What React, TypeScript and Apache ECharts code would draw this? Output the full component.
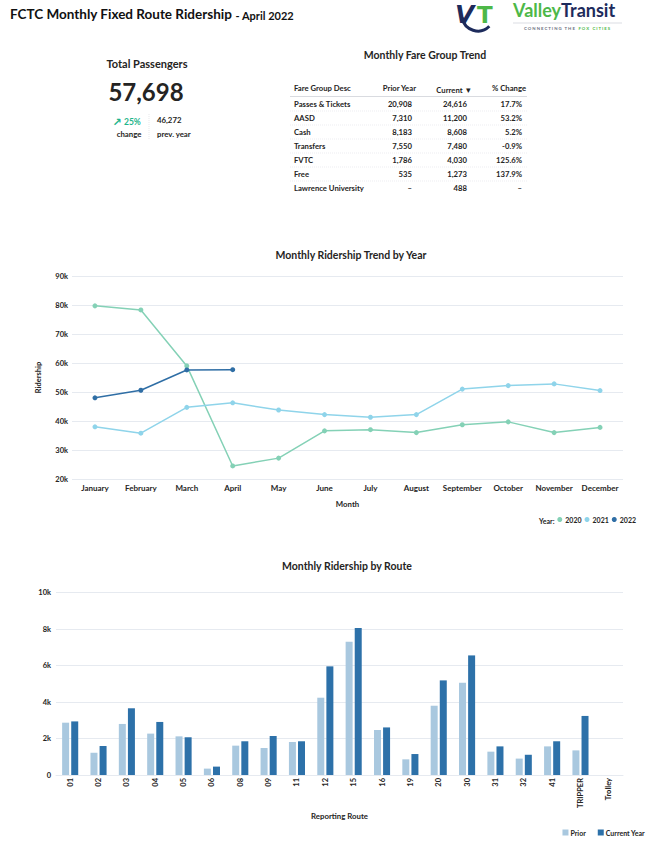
import React, { useEffect, useRef } from "react";
import * as echarts from "echarts";

// ---------- Data ----------
const months = ["January", "February", "March", "April", "May", "June", "July", "August", "September", "October", "November", "December"];
const ridership2020 = [79700, 78300, 59000, 24500, 27200, 36600, 37000, 36000, 38700, 39700, 36000, 37800];
const ridership2021 = [38000, 35800, 44700, 46272, 43800, 42200, 41300, 42200, 51000, 52200, 52800, 50500];
const ridership2022 = [48000, 50600, 57600, 57698];

const routes = ["01", "02", "03", "04", "05", "06", "08", "09", "11", "12", "15", "16", "19", "20", "30", "31", "32", "41", "TRIPPER", "Trolley"];
const priorRoute = [2870, 1220, 2800, 2270, 2120, 350, 1610, 1480, 1810, 4240, 7310, 2470, 860, 3800, 5060, 1280, 900, 1570, 1350, 0];
const currentRoute = [2940, 1590, 3660, 2910, 2070, 460, 1850, 2140, 1850, 5960, 8060, 2610, 1150, 5190, 6560, 1570, 1110, 1850, 3240, 0];

const fareGroups = ["Passes & Tickets", "AASD", "Cash", "Transfers", "FVTC", "Free", "Lawrence University"];
const farePrior: (number | null)[] = [20908, 7310, 8183, 7550, 1786, 535, null];
const fareCurrent: (number | null)[] = [24616, 11200, 8608, 7480, 4030, 1273, 488];
const farePct: (number | null)[] = [17.7, 53.2, 5.2, -0.9, 125.6, 137.9, null];

const totalPassengers = 57698;
const prevYearPassengers = 46272;
const changePct = 25;

// ---------- Styles ----------
const FONT = "Lato";
const DARK = "#252423";
const GRID = "#e6eaf0";
const C2020 = "#84d1b6";
const C2021 = "#8fd4ea";
const C2022 = "#2f6ea5";
const CPRIOR = "#a9c8df";
const CCURR = "#2d71a9";

const fmt = (v: number | null) => (v === null ? "–" : v.toLocaleString("en-US"));

export default function App() {
  const ref = useRef<HTMLDivElement>(null);

  useEffect(() => {
    if (!ref.current) return;
    const chart = echarts.init(ref.current, null, { renderer: "svg" });

    const graphics: any[] = [];
    // Title
    graphics.push({
      type: "text",
      left: 10,
      top: 7,
      style: {
        text: "{a|FCTC Monthly Fixed Route Ridership} {b|- April 2022}",
        rich: {
          a: { fontFamily: FONT, fontWeight: "bold", fontSize: 13.5, fill: "#111", verticalAlign: "bottom" },
          b: { fontFamily: FONT, fontWeight: "bold", fontSize: 11, fill: "#111", verticalAlign: "bottom" },
        },
      },
    });
    // Logo
    graphics.push({
      type: "arc",
      shape: { cx: 478, cy: 15, r: 16, startAngle: Math.PI * 0.25, endAngle: Math.PI * 0.95 },
      style: { stroke: "#1d2b5c", lineWidth: 3, fill: "none" },
    });
    graphics.push({ type: "text", x: 455, y: 2, style: { text: "V", fontFamily: "DejaVu Sans", fontWeight: "bold", fontStyle: "italic", fontSize: 25, fill: "#1d2b5c" } });
    graphics.push({ type: "text", x: 477, y: 3, style: { text: "T", fontFamily: "DejaVu Sans", fontWeight: "bold", fontSize: 23, fill: "#4db848" } });
    graphics.push({
      type: "text",
      x: 513,
      y: 1,
      style: {
        text: "{g|Valley}{n|Transit}",
        rich: {
          g: { fontFamily: FONT, fontWeight: "bold", fontSize: 18, fill: "#4db848" },
          n: { fontFamily: FONT, fontWeight: "bold", fontSize: 18, fill: "#1d2b5c" },
        },
      },
    });
    graphics.push({ type: "line", shape: { x1: 513, y1: 23, x2: 622, y2: 23 }, style: { stroke: "#c4c8d0", lineWidth: 0.6 } });
    graphics.push({
      type: "text",
      x: 567,
      y: 28.5,
      style: {
        text: "{a|C O N N E C T I N G   T H E   }{b|F O X   C I T I E S}",
        align: "center",
        verticalAlign: "middle",
        rich: {
          a: { fontFamily: FONT, fontWeight: "bold", fontSize: 4.3, fill: "#6c7282" },
          b: { fontFamily: FONT, fontWeight: "bold", fontSize: 4.3, fill: "#4db848" },
        },
      },
    });

    // KPI
    graphics.push({ type: "text", x: 147, y: 63, style: { text: "Total Passengers", align: "center", verticalAlign: "middle", fontFamily: FONT, fontWeight: "bold", fontSize: 11, fill: DARK } });
    graphics.push({ type: "text", x: 146, y: 91, style: { text: totalPassengers.toLocaleString("en-US"), align: "center", verticalAlign: "middle", fontFamily: FONT, fontWeight: "bold", fontSize: 24, fill: DARK } });
    graphics.push({ type: "text", x: 117, y: 122, style: { text: "↗", align: "center", verticalAlign: "middle", fontFamily: "DejaVu Sans", fontWeight: "bold", fontSize: 11, fill: "#1fb58b" } });
    graphics.push({ type: "text", x: 124, y: 122, style: { text: changePct + "%", align: "left", verticalAlign: "middle", fontFamily: FONT, fontWeight: "bold", fontSize: 8.5, fill: "#1fb58b" } });
    graphics.push({ type: "text", x: 129, y: 134, style: { text: "change", align: "center", verticalAlign: "middle", fontFamily: FONT, fontWeight: "bold", fontSize: 7.8, fill: DARK } });
    graphics.push({ type: "line", shape: { x1: 149, y1: 114, x2: 149, y2: 140 }, style: { stroke: "#d6d9de", lineWidth: 0.6, lineDash: [1, 1] } });
    graphics.push({ type: "text", x: 157, y: 120, style: { text: prevYearPassengers.toLocaleString("en-US"), align: "left", verticalAlign: "middle", fontFamily: FONT, fontWeight: "bold", fontSize: 7.8, fill: DARK } });
    graphics.push({ type: "text", x: 157, y: 134, style: { text: "prev. year", align: "left", verticalAlign: "middle", fontFamily: FONT, fontWeight: "bold", fontSize: 7.8, fill: DARK } });

    // Table
    graphics.push({ type: "text", x: 425, y: 55, style: { text: "Monthly Fare Group Trend", align: "center", verticalAlign: "middle", fontFamily: FONT, fontWeight: "bold", fontSize: 10.5, fill: DARK } });
    const tfont = { fontFamily: FONT, fontWeight: "bold", fontSize: 7.7, fill: DARK, verticalAlign: "middle" };
    graphics.push({ type: "text", x: 294, y: 88, style: { ...tfont, text: "Fare Group Desc", align: "left" } });
    graphics.push({ type: "text", x: 416, y: 88, style: { ...tfont, text: "Prior Year", align: "right" } });
    graphics.push({ type: "text", x: 472, y: 90, style: { ...tfont, text: "Current ▼", align: "right" } });
    graphics.push({ type: "text", x: 526, y: 88, style: { ...tfont, text: "% Change", align: "right" } });
    graphics.push({ type: "line", shape: { x1: 290, y1: 96.5, x2: 527, y2: 96.5 }, style: { stroke: "#c8ccd2", lineWidth: 0.7 } });
    fareGroups.forEach((g, i) => {
      const y = 104 + i * 14;
      graphics.push({ type: "text", x: 294, y, style: { ...tfont, text: g, align: "left" } });
      graphics.push({ type: "text", x: 412, y, style: { ...tfont, text: fmt(farePrior[i]), align: "right" } });
      graphics.push({ type: "text", x: 467, y, style: { ...tfont, text: fmt(fareCurrent[i]), align: "right" } });
      const p = farePct[i];
      graphics.push({ type: "text", x: 522, y, style: { ...tfont, text: p === null ? "–" : p.toFixed(1) + "%", align: "right" } });
      if (i < fareGroups.length - 1) {
        graphics.push({ type: "line", shape: { x1: 290, y1: y + 7, x2: 527, y2: y + 7 }, style: { stroke: "#d8dbe0", lineWidth: 0.5, lineDash: [1, 1] } });
      }
    });

    // Chart titles
    graphics.push({ type: "text", x: 351, y: 255, style: { text: "Monthly Ridership Trend by Year", align: "center", verticalAlign: "middle", fontFamily: FONT, fontWeight: "bold", fontSize: 10.5, fill: DARK } });
    graphics.push({ type: "text", x: 347, y: 566, style: { text: "Monthly Ridership by Route", align: "center", verticalAlign: "middle", fontFamily: FONT, fontWeight: "bold", fontSize: 10.5, fill: DARK } });
    graphics.push({ type: "text", x: 539, y: 521, style: { text: "Year:", align: "left", verticalAlign: "middle", fontFamily: FONT, fontWeight: "bold", fontSize: 7, fill: DARK } });

    const axisLabelBold = { fontFamily: FONT, fontWeight: "bold" as const, fontSize: 7.5, color: DARK };

    chart.setOption({
      animation: false,
      backgroundColor: "#fff",
      textStyle: { fontFamily: FONT },
      grid: [
        { left: 72, top: 276, width: 551, height: 203 },
        { left: 56, top: 592.7, width: 567, height: 182.3 },
      ],
      legend: [
        {
          data: ["2020", "2021", "2022"],
          right: 16,
          top: 516,
          icon: "circle",
          itemWidth: 5,
          itemHeight: 5,
          itemGap: 3,
          padding: 0,
          textStyle: { fontFamily: FONT, fontWeight: "bold", fontSize: 7, color: DARK, padding: [0, 0, 0, -2] },
        },
        {
          data: ["Prior", "Current Year"],
          right: 7,
          top: 829,
          icon: "rect",
          itemWidth: 6,
          itemHeight: 6,
          itemGap: 12,
          padding: 0,
          textStyle: { fontFamily: FONT, fontWeight: "bold", fontSize: 7, color: DARK, padding: [0, 0, 0, -3] },
        },
      ],
      xAxis: [
        {
          type: "category",
          gridIndex: 0,
          data: months,
          boundaryGap: true,
          axisLine: { show: false },
          axisTick: { show: false },
          axisLabel: { ...axisLabelBold, fontSize: 8, margin: 5, interval: 0 },
          name: "Month",
          nameLocation: "middle",
          nameGap: 21,
          nameTextStyle: { ...axisLabelBold, fontSize: 7.8 },
        },
        {
          type: "category",
          gridIndex: 1,
          data: routes,
          axisLine: { show: true, lineStyle: { color: GRID } },
          axisTick: { show: false },
          axisLabel: { ...axisLabelBold, rotate: 90, margin: 3, interval: 0 },
          name: "Reporting Route",
          nameLocation: "middle",
          nameGap: 37,
          nameTextStyle: { ...axisLabelBold, fontSize: 7.8 },
        },
      ],
      yAxis: [
        {
          type: "value",
          gridIndex: 0,
          min: 20000,
          max: 90000,
          interval: 10000,
          axisLine: { show: false },
          axisTick: { show: false },
          splitLine: { lineStyle: { color: GRID, width: 1 } },
          axisLabel: { ...axisLabelBold, margin: 4, formatter: (v: number) => v / 1000 + "k" },
          name: "Ridership",
          nameLocation: "middle",
          nameRotate: 90,
          nameGap: 30,
          nameTextStyle: { ...axisLabelBold },
        },
        {
          type: "value",
          gridIndex: 1,
          min: 0,
          max: 10000,
          interval: 2000,
          axisLine: { show: false },
          axisTick: { show: false },
          splitLine: { lineStyle: { color: GRID, width: 1 } },
          axisLabel: { ...axisLabelBold, margin: 5, formatter: (v: number) => (v === 0 ? "0" : v / 1000 + "k") },
        },
      ],
      series: [
        { name: "2020", type: "line", xAxisIndex: 0, yAxisIndex: 0, data: ridership2020, color: C2020, symbol: "circle", symbolSize: 5, lineStyle: { width: 1.5 } },
        { name: "2021", type: "line", xAxisIndex: 0, yAxisIndex: 0, data: ridership2021, color: C2021, symbol: "circle", symbolSize: 5, lineStyle: { width: 1.5 } },
        { name: "2022", type: "line", xAxisIndex: 0, yAxisIndex: 0, data: ridership2022, color: C2022, symbol: "circle", symbolSize: 5, lineStyle: { width: 1.5 } },
        { name: "Prior", type: "bar", xAxisIndex: 1, yAxisIndex: 1, data: priorRoute, color: CPRIOR, barWidth: 7, barGap: "30%" },
        { name: "Current Year", type: "bar", xAxisIndex: 1, yAxisIndex: 1, data: currentRoute, color: CCURR, barWidth: 7, barGap: "30%" },
      ],
      graphic: graphics,
    });

    return () => chart.dispose();
  }, []);

  return <div ref={ref} style={{ position: "absolute", left: 0, top: 0, width: 652, height: 842, background: "#fff" }} />;
}
